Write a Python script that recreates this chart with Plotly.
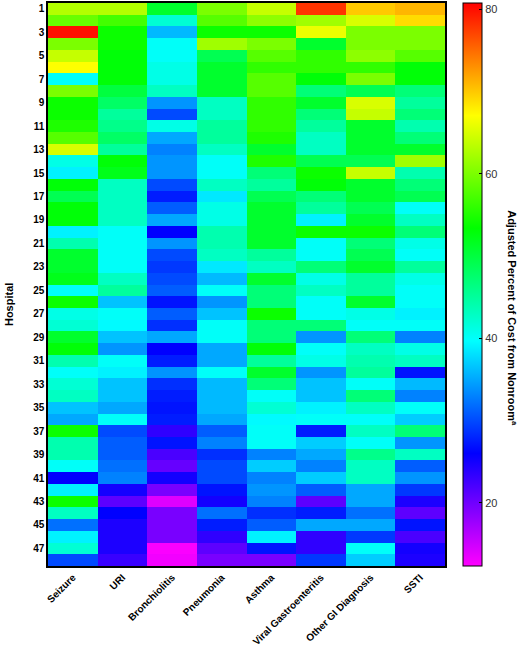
import plotly.graph_objects as go

# ============================================
# DATA — adjusted percent of cost from nonroom, hospitals 1..48
# ============================================
diagnoses = ['Seizure', 'URI', 'Bronchiolitis', 'Pneumonia', 'Asthma',
             'Viral Gastroenteritis', 'Other GI Diagnosis', 'SSTI']
hospitals = list(range(1, 49))

seizure = [63, 59, 80, 60, 64, 67, 40, 60, 54, 54, 55, 58,
           65, 41, 39, 53, 49, 53, 53, 39, 44, 51, 51, 52,
           40, 54, 41, 42, 51, 53, 44, 40, 42, 43, 36.5, 35,
           54, 44, 44, 40, 26, 39, 54, 43, 32, 39, 42, 30]
uri = [63, 57, 54, 54, 53, 53, 53, 50, 48, 45, 46, 48,
       45, 53, 52, 43, 43, 43, 43, 40, 40, 40, 40, 43,
       45, 36.5, 40, 39.5, 36.5, 34, 40, 39, 36.5, 36.5, 35, 40,
       30, 31, 31, 32, 33, 25, 21, 26, 24.5, 24.5, 24.5, 23]
bronchiolitis = [51, 42, 36, 40, 40, 41, 41, 43, 34, 30, 41, 35,
                 33, 34, 34, 30, 27.5, 31, 35, 26, 34, 30, 29, 30,
                 31, 27, 31, 28.5, 35, 26, 27.5, 34, 28.5, 27.5, 27, 27.5,
                 23.5, 27, 22, 20.5, 25, 19.5, 14, 19.5, 19.5, 19.5, 12.5, 13]
pneumonia = [60, 58, 54, 62, 49, 51, 51, 51, 43, 43, 45, 45,
             43, 40, 40, 43, 38.5, 41, 41, 44, 44, 43, 38.5, 36,
             40, 34, 36.5, 40, 40, 35, 35, 40, 36, 36, 36, 35,
             31, 33, 28.5, 30, 30, 27, 25, 32, 27.5, 23.5, 21, 19.5]
asthma = [64, 61, 54, 60, 58, 56, 58, 58, 56, 56, 56, 55,
          51, 55, 47, 45, 49, 51, 51, 51, 51, 45, 43, 51,
          47, 47, 54, 47, 47, 53, 45, 51, 47, 40, 42, 39.5,
          40, 40, 33, 37, 33, 34, 33, 28.5, 31, 39, 27, 19.5]
viral_gastro = [78, 62, 66, 51, 56, 56, 53, 47, 51, 47, 45, 43,
                43, 49, 54, 53, 47, 45, 39, 54, 40, 40, 47, 41,
                43, 40, 40, 47, 34, 40, 41, 34, 36.5, 36.5, 39, 40,
                27.5, 37, 35, 33, 37, 31, 21, 27.5, 35, 23.5, 23.5, 29]
other_gi = [70, 65, 60, 60, 61, 56, 60, 49, 65, 64, 51, 51,
            51, 49, 64, 51, 51, 49, 51, 54, 47, 49, 51, 45,
            45, 51, 41, 40, 47, 43, 44, 45, 40, 47, 43, 40,
            43, 40, 46, 43, 43, 35, 35, 32, 35, 29, 40, 37]
ssti = [71, 69, 60, 60, 58, 53, 53, 47, 45, 47, 44, 47,
        51, 62, 44, 47, 49, 40, 43, 47, 41, 40, 45, 41,
        40, 40, 39, 40, 33, 41, 43, 27, 36, 33, 40, 37,
        47, 34, 43, 31, 34, 29, 24.5, 21, 27, 22, 25, 24.5]

columns = [seizure, uri, bronchiolitis, pneumonia, asthma,
           viral_gastro, other_gi, ssti]
z = [[col[i] for col in columns] for i in range(len(hospitals))]

# hue ramp magenta -> blue -> cyan -> green -> yellow -> red
hue_scale = [[0.0, '#ff00ff'], [0.2, '#0000ff'], [0.4, '#00ffff'],
             [0.6, '#00ff00'], [0.8, '#ffff00'], [1.0, '#ff0000']]

FONT = 'Liberation Sans'

fig = go.Figure(go.Heatmap(
    z=z, x=diagnoses, y=hospitals,
    colorscale=hue_scale, zmin=12.3, zmax=80.8,
    colorbar=dict(
        x=1.045, xanchor='left', xpad=0,
        y=0.5, yanchor='middle', len=1, ypad=0,
        thickness=19,
        outlinecolor='black', outlinewidth=1,
        tickvals=[20, 40, 60, 80],
        ticks='inside', ticklen=3, tickcolor='black',
        tickfont=dict(family=FONT, size=11, color='#333'),
    ),
    hovertemplate='Hospital %{y}<br>%{x}: %{z}<extra></extra>'
))

fig.update_layout(
    width=520, height=651,
    margin=dict(l=48, r=75, t=3, b=85, autoexpand=False),
    paper_bgcolor='white', plot_bgcolor='white',
    font=dict(family=FONT, color='black'),
)

# colorbar title and y title as rotated annotations
fig.add_annotation(
    text='<b>Adjusted Percent of Cost from Nonroom<sup>a</sup></b>',
    x=1.169, y=0.44, xref='paper', yref='paper',
    xanchor='center', yanchor='middle', textangle=90,
    showarrow=False, font=dict(family=FONT, size=11, color='black'))
fig.add_annotation(
    text='<b>Hospital</b>',
    x=-0.1, y=0.464, xref='paper', yref='paper',
    xanchor='center', yanchor='middle', textangle=-90,
    showarrow=False, font=dict(family=FONT, size=11, color='black'))

fig.update_xaxes(
    tickangle=-45, tickfont=dict(family=FONT, size=10, weight='bold'),
    showline=True, linecolor='black', linewidth=1.5, mirror=True,
    ticks='', showgrid=False, automargin=False,
)
fig.update_yaxes(
    autorange='reversed', tickvals=list(range(1, 49, 2)),
    tickfont=dict(family=FONT, size=10, weight='bold'),
    showline=True, linecolor='black', linewidth=1.5, mirror=True,
    ticks='', showgrid=False, zeroline=False, automargin=False,
)

# drop the browser's default page margin so the 520x651 figure fits the window
fig.write_html("out.html", config={'displayModeBar': False},
               post_script="document.body.style.margin='0';")
